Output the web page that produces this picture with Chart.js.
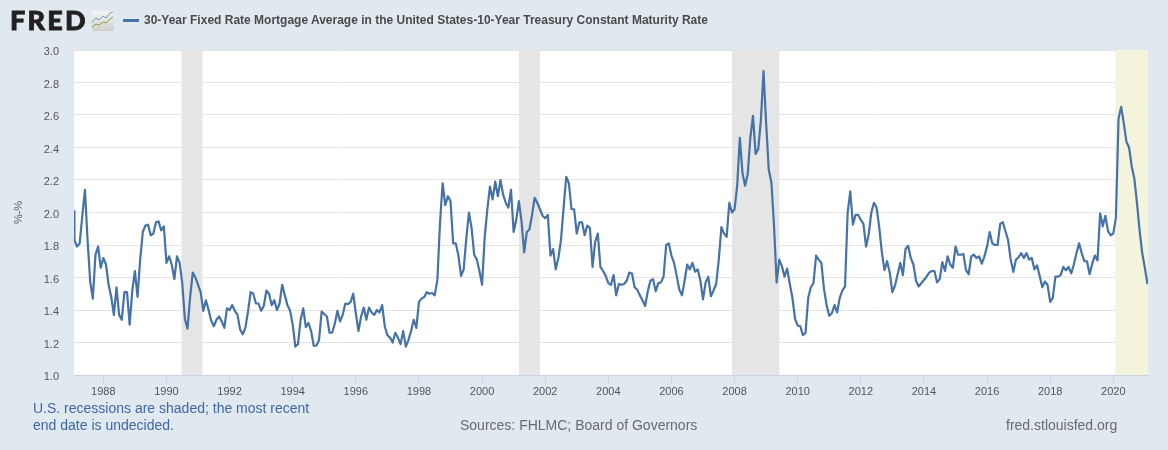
<!DOCTYPE html>
<html>
<head>
<meta charset="utf-8">
<title>30-Year Mortgage minus 10-Year Treasury</title>
<script src="https://cdn.jsdelivr.net/npm/chart.js@4/dist/chart.umd.min.js"></script>
<style>
  html, body { margin: 0; padding: 0; background: #e1e9f0; }
  #wrap { position: relative; width: 1168px; height: 450px; overflow: hidden; font-family: "Liberation Sans", Arial, sans-serif; }
  canvas { position: absolute; left: 0; top: 0; }
  .t { position: absolute; white-space: nowrap; }
  #logo { left: 10px; top: 4px; font: 900 27px/32px Lato, "Liberation Sans", sans-serif; color: #231f20; letter-spacing: 2.2px; -webkit-text-stroke: 0.8px #231f20; }
  #icon { position: absolute; left: 92px; top: 11px; }
  #swatch { position: absolute; left: 123px; top: 19px; width: 16px; height: 2.5px; background: #4572a7; }
  #legend { left: 144px; top: 13px; font: bold 12px/14px "Liberation Sans", Arial, sans-serif; color: #4a4a4a; }
  #note { left: 33px; top: 400px; font: 14px/17px "Liberation Sans", Arial, sans-serif; color: #3f68a3; }
  #src { left: 460px; top: 417px; font: 14px/17px "Liberation Sans", Arial, sans-serif; color: #6a6a6a; }
  #site { left: 1006px; top: 417px; font: 14px/17px "Liberation Sans", Arial, sans-serif; color: #6a6a6a; }
</style>
</head>
<body>
<div id="wrap">
  <canvas id="chart" width="1168" height="450"></canvas>
  <div class="t" id="logo">FRED</div>
  <svg id="icon" width="22" height="20" viewBox="0 0 22 20">
    <defs><linearGradient id="g" x1="0" y1="0" x2="0" y2="1"><stop offset="0" stop-color="#f4f4f2"/><stop offset="1" stop-color="#cfd0cc"/></linearGradient></defs>
    <rect width="22" height="20" rx="1.5" fill="url(#g)"/>
    <polyline points="0,11 4,7 7,9 11,5 14,7 18,2 21,1" fill="none" stroke="#6f9cc0" stroke-width="1"/>
    <polyline points="0,16 4,13 7,14 11,11 14,12 18,8 21,6" fill="none" stroke="#7fa04a" stroke-width="1"/>
  </svg>
  <div id="swatch"></div>
  <div class="t" id="legend">30-Year Fixed Rate Mortgage Average in the United States-10-Year Treasury Constant Maturity Rate</div>
  <div class="t" id="note">U.S. recessions are shaded; the most recent<br>end date is undecided.</div>
  <div class="t" id="src">Sources: FHLMC; Board of Governors</div>
  <div class="t" id="site">fred.stlouisfed.org</div>
</div>
<script>
// Monthly spread in percentage points, one array per stretch of the series.
const openingValue = 2.007;
const spread1987to1996 = [
  1.83,1.79,1.81,1.98,2.14,1.83,1.575,1.47,1.74,1.79,1.66,1.72,1.68,1.555,1.48,1.37,1.54,1.37,1.34,
  1.51,1.51,1.31,1.52,1.64,1.48,1.71,1.88,1.92,1.925,1.86,1.87,1.94,1.945,1.89,1.915,1.69,1.73,1.68,1.59,
  1.73,1.69,1.565,1.345,1.285,1.48,1.63,1.60,1.555,1.51,1.395,1.46,1.40,1.335,1.30,1.34,1.36,1.33,1.29,1.41,
  1.40,1.43,1.395,1.37,1.28,1.25,1.29,1.39,1.51,1.50,1.44,1.44,1.395,1.425,1.52,1.50,1.43,1.46,1.40,1.44,
  1.555,1.49,1.43,1.395,1.31,1.175,1.19,1.34,1.41,1.295,1.32,1.27,1.18,1.18,1.215,1.39,1.375,1.36,1.26,1.26,
  1.315,1.395,1.33,1.37,1.44,1.435,1.45,1.50,1.38,1.27
];
const spread1996to2005 = [
  1.36,1.415,1.34,1.415,1.385,1.37,1.40,1.385,1.43,1.30,1.245,1.23,1.20,1.26,1.23,1.19,1.27,1.175,1.215,1.27,
  1.34,1.29,1.45,1.47,1.48,1.51,1.50,1.505,1.49,1.585,1.935,2.18,2.045,2.10,2.07,1.81,1.81,1.735,1.61,1.65,
  1.84,2.00,1.905,1.74,1.71,1.64,1.555,1.85,2.02,2.16,2.08,2.19,2.10,2.20,2.11,2.06,2.03,2.14,1.88,1.955,
  2.07,1.945,1.755,1.88,1.895,1.985,2.09,2.06,2.02,1.98,1.965,1.985,1.735,1.775,1.65,1.72,1.83,2.03,2.22,2.18,
  2.02,2.02,1.87,1.94,1.94,1.86,1.92,1.905,1.665,1.82,1.87,1.665,1.64,1.61,1.565,1.555,1.615,1.49,1.56,1.555,
  1.56,1.58,1.63,1.625,1.54,1.525,1.49,1.46,1.425,1.515,1.58,1.59,1.515,1.565
];
const spread2005to2013 = [
  1.57,1.605,1.80,1.81,1.735,1.69,1.61,1.525,1.49,1.58,1.68,1.65,1.69,1.635,1.65,1.58,1.465,1.57,1.605,1.485,
  1.52,1.56,1.71,1.91,1.87,1.85,2.06,2.00,2.02,2.165,2.46,2.245,2.165,2.235,2.46,2.595,2.36,2.39,2.565,2.87,
  2.55,2.265,2.185,1.92,1.57,1.71,1.67,1.605,1.655,1.56,1.475,1.345,1.305,1.30,1.245,1.26,1.475,1.54,1.565,1.735,
  1.71,1.69,1.53,1.43,1.365,1.38,1.43,1.385,1.475,1.52,1.545,2.00,2.13,1.925,1.985,1.985,1.955,1.93,1.79,1.865,
  2.00,2.06,2.03,1.91,1.755,1.645,1.70,1.63,1.51,1.55,1.62,1.69,1.615,1.775,1.795
];
const spread2013to2021 = [
  1.72,1.68,1.58,1.545,1.565,1.585,1.605,1.63,1.64,1.64,1.57,1.59,1.695,1.64,1.73,1.68,1.66,1.79,1.74,1.74,
  1.745,1.645,1.62,1.73,1.74,1.72,1.73,1.685,1.73,1.79,1.88,1.81,1.80,1.80,1.93,1.94,1.885,1.83,1.71,1.635,
  1.71,1.725,1.75,1.72,1.75,1.71,1.72,1.65,1.675,1.61,1.54,1.575,1.555,1.45,1.475,1.605,1.605,1.615,1.665,1.645,
  1.665,1.625,1.68,1.75,1.81,1.75,1.70,1.70,1.62,1.685,1.735,1.705,1.995,1.915,1.98,1.885,1.86,1.87,1.97,2.58,
  2.65,2.55,2.435,2.40,2.285,2.21,2.06,1.89,1.75,1.66,1.56
];
const axisStartYear = 1987.07;
const axisEndYear = 2021.1;
const firstMonthYear = 1987 + 1 / 12;
const xTickYears = [1988,1990,1992,1994,1996,1998,2000,2002,2004,2006,2008,2010,2012,2014,2016,2018,2020];
const recessionStarts = [1990.48, 2001.17, 2007.92, 2020.06];
const recessionEnds = [1991.14, 2001.83, 2009.42, 2021.1];
const recessionFills = ['#e5e5e5', '#e5e5e5', '#e5e5e5', '#f4f4dc'];

const spreadValues = [].concat(spread1987to1996, spread1996to2005, spread2005to2013, spread2013to2021);
const points = [{ x: axisStartYear, y: openingValue }]
  .concat(spreadValues.map((y, i) => ({ x: firstMonthYear + i / 12, y })));

// White plot background, then the shaded recession bands positioned by the x scale.
const plotBackdrop = {
  id: 'plotBackdrop',
  beforeDraw(chart) {
    const { ctx, chartArea: a } = chart;
    ctx.save();
    ctx.fillStyle = '#ffffff';
    ctx.fillRect(a.left, a.top, a.right - a.left, a.bottom - a.top);
    ctx.restore();
  },
  beforeDatasetsDraw(chart) {
    const { ctx, chartArea: a, scales: { x } } = chart;
    ctx.save();
    recessionStarts.forEach((start, i) => {
      const x0 = x.getPixelForValue(start);
      const x1 = x.getPixelForValue(recessionEnds[i]);
      ctx.fillStyle = recessionFills[i];
      ctx.fillRect(x0, a.top, x1 - x0, a.bottom - a.top);
    });
    ctx.restore();
  }
};

new Chart(document.getElementById('chart'), {
  type: 'line',
  data: {
    datasets: [{
      label: '30-Year Fixed Rate Mortgage Average in the United States-10-Year Treasury Constant Maturity Rate',
      data: points,
      borderColor: '#4572a7',
      borderWidth: 2.2,
      pointRadius: 0,
      tension: 0,
      borderJoinStyle: 'round'
    }]
  },
  plugins: [plotBackdrop],
  options: {
    responsive: false,
    animation: false,
    layout: { padding: { left: 0, top: 50, right: 20, bottom: 0 } },
    plugins: { legend: { display: false }, title: { display: false }, tooltip: { enabled: false } },
    scales: {
      x: {
        type: 'linear',
        min: axisStartYear,
        max: axisEndYear,
        afterBuildTicks(scale) { scale.ticks = xTickYears.map(value => ({ value })); },
        afterFit(scale) { scale.height = 75; },
        border: { display: true, color: '#c8d5e6', width: 1 },
        grid: { drawOnChartArea: false, drawTicks: true, tickLength: 8, tickColor: '#c8d5e6' },
        ticks: {
          autoSkip: false,
          maxRotation: 0,
          padding: 2,
          color: '#555555',
          font: { family: '"Liberation Sans", Arial, sans-serif', size: 11 },
          callback: value => String(value)
        }
      },
      y: {
        min: 1,
        max: 3,
        afterFit(scale) { scale.width = 74; },
        border: { display: false },
        grid: { color: '#e3e3e3', lineWidth: 1, drawTicks: false },
        ticks: {
          stepSize: 0.2,
          padding: 15,
          labelOffset: 2,
          color: '#555555',
          font: { family: '"Liberation Sans", Arial, sans-serif', size: 11 },
          callback: value => value.toFixed(1)
        },
        title: {
          display: true,
          text: '%-%',
          color: '#555555',
          padding: { top: 12, bottom: 0 },
          font: { family: '"Liberation Sans", Arial, sans-serif', size: 11 }
        }
      }
    }
  }
});
</script>
</body>
</html>
